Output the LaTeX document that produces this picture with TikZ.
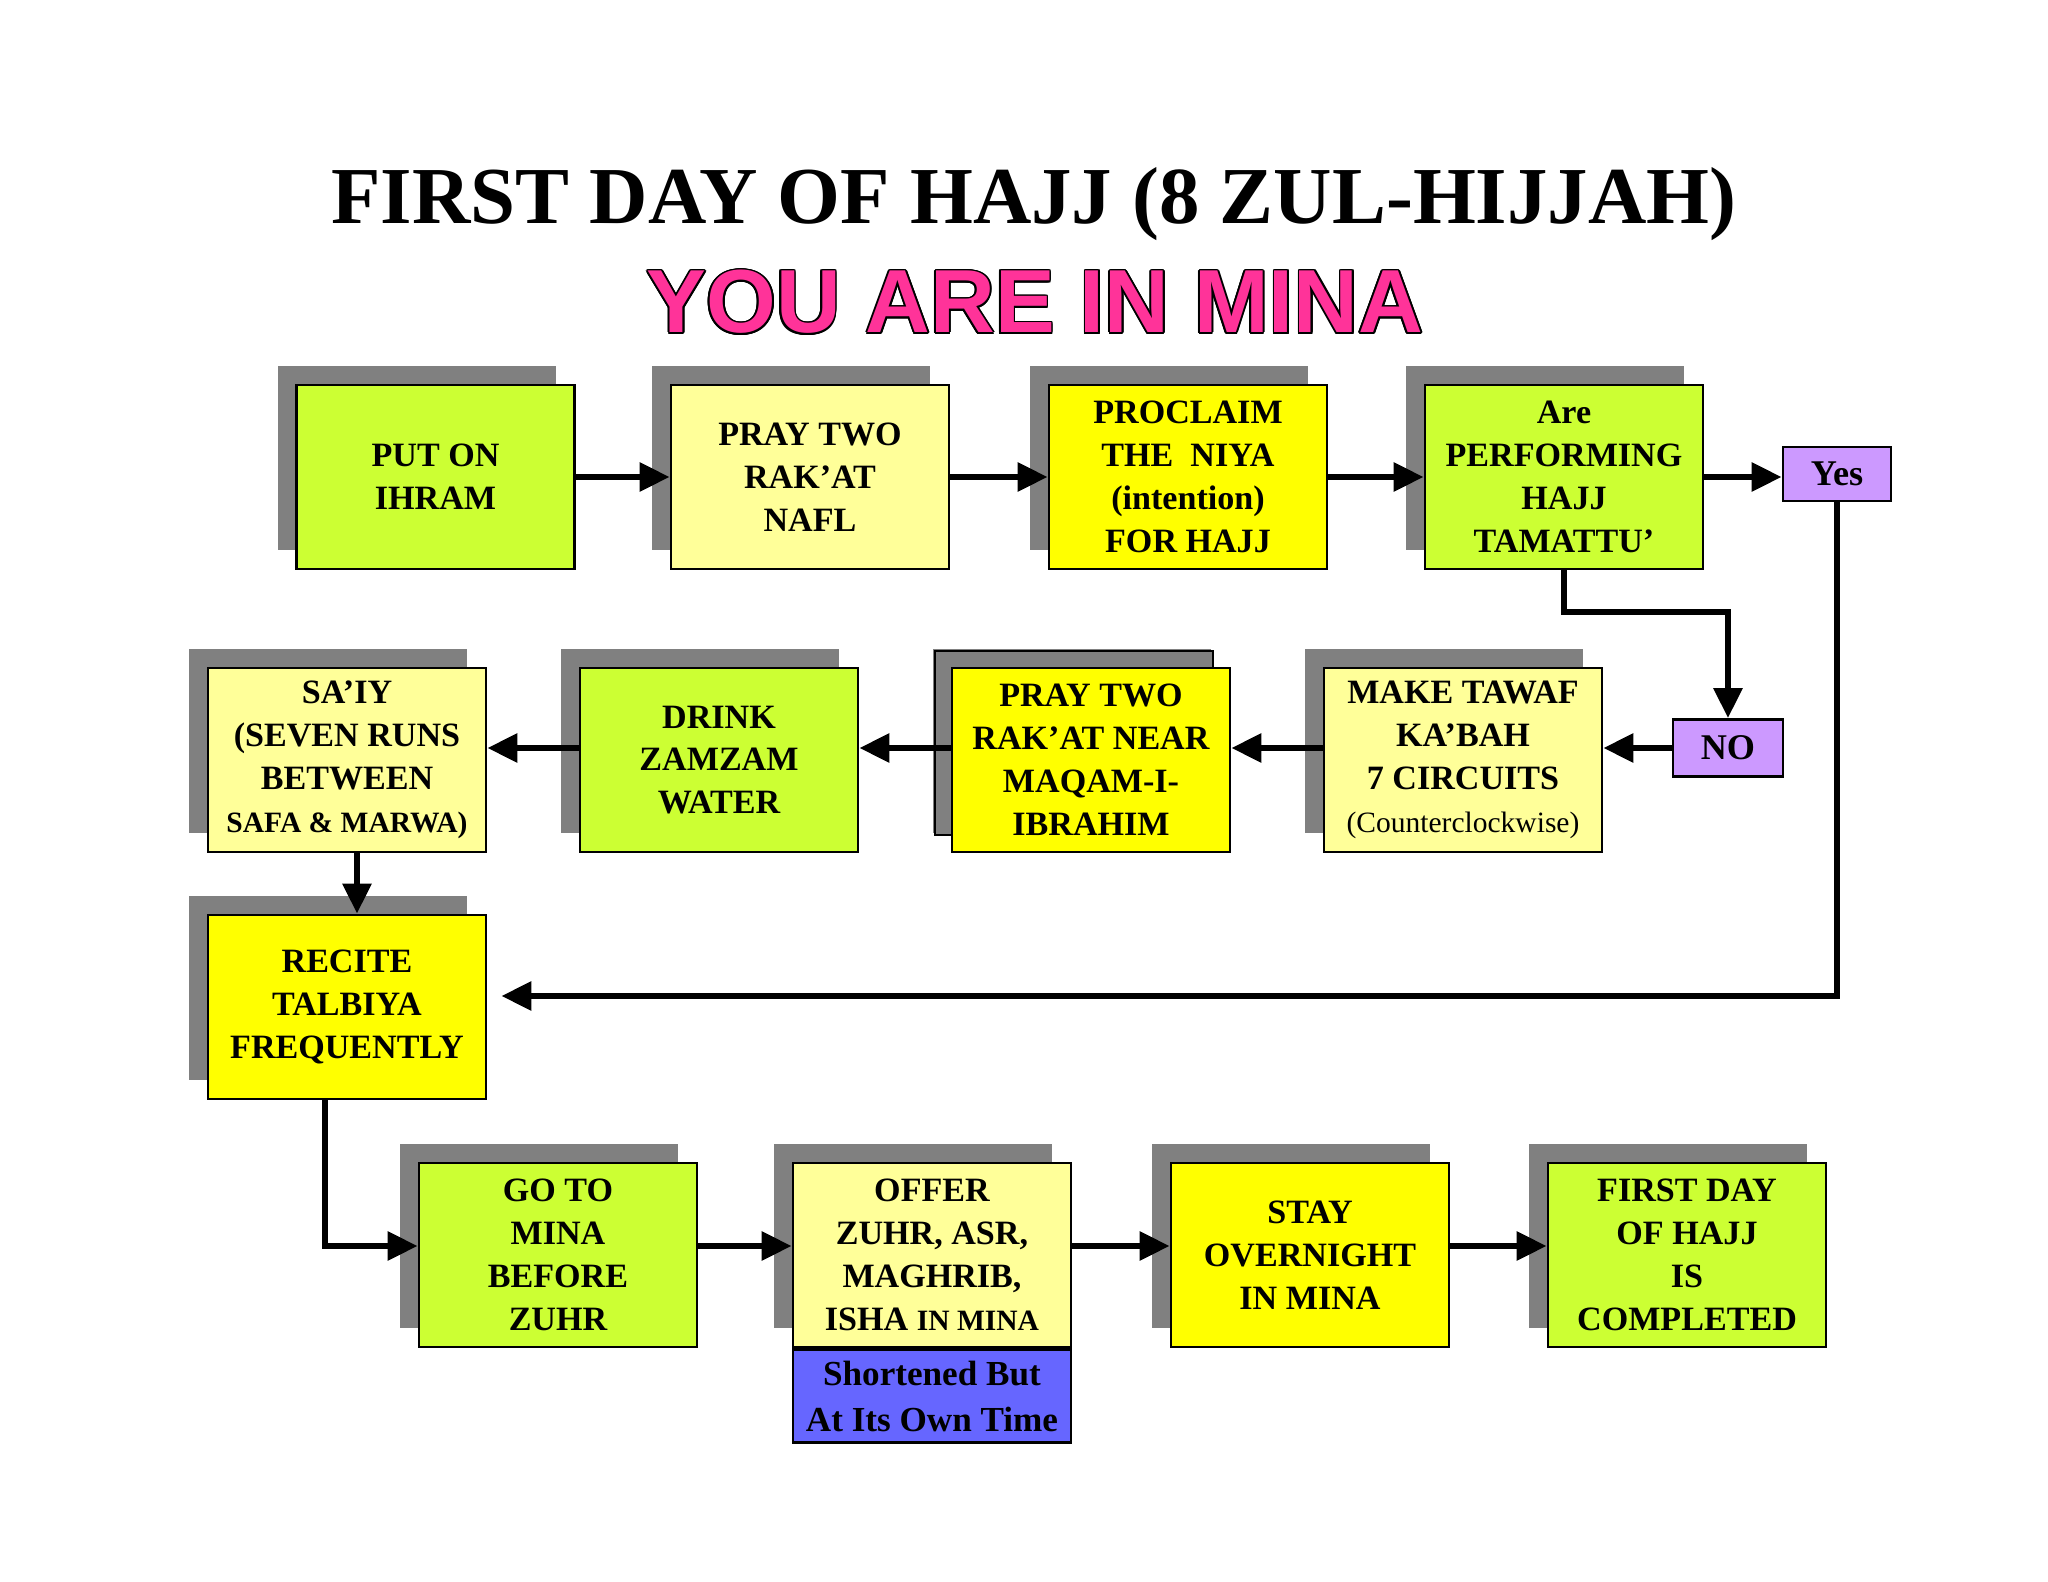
\documentclass[tikz,border=0pt]{standalone}
\usepackage{fontspec}
\setmainfont{Liberation Serif}
\newfontfamily\subfont{Liberation Sans}
\usepackage{contour}
\contourlength{0.5pt}
\usetikzlibrary{arrows.meta,shadows}
\definecolor{limegreen}{HTML}{CCFF33}
\definecolor{paleyellow}{HTML}{FFFF99}
\definecolor{brightyellow}{HTML}{FFFF00}
\definecolor{lavender}{HTML}{CC99FF}
\definecolor{bluepurple}{HTML}{6666FF}
\definecolor{shadowgray}{HTML}{808080}
\definecolor{titlepink}{HTML}{FF3399}
\newcommand{\boxfont}{\fontsize{9.7}{12.2}\selectfont\bfseries}
\tikzset{
	stepbox/.style={draw=black, line width=0.8pt, minimum width=2.78cm, minimum height=1.84cm, inner sep=0pt, align=center, font=\boxfont,
		general shadow={fill=shadowgray, shadow xshift=-0.19cm, shadow yshift=0.19cm}},
	answer/.style={draw=black, line width=0.8pt, fill=lavender, inner sep=0pt, align=center, font=\fontsize{10.3}{12}\selectfont\bfseries},
	arr/.style={line width=1.7pt, -{Triangle[length=0.3cm, width=0.28cm]}}
}
\begin{document}
\begin{tikzpicture}
	\useasboundingbox (0,0) rectangle (20.48,-15.82);
	\node[anchor=base, font=\fontsize{23}{27}\selectfont\bfseries] (title) at (10.34,-2.24) {FIRST DAY OF HAJJ (8 ZUL-HIJJAH)};
	\node[anchor=base, font=\subfont\fontsize{25.5}{30}\selectfont\bfseries, text=titlepink] (sub) at (10.35,-3.33) {\contour{black}{YOU ARE IN MINA}};

	\node[stepbox, fill=limegreen] (ihram) at (4.355,-4.77) {PUT ON\\IHRAM};
	\node[stepbox, fill=paleyellow] (nafl) at (8.10,-4.77) {PRAY TWO\\RAK’AT\\NAFL};
	\node[stepbox, fill=brightyellow] (niya) at (11.88,-4.77) {PROCLAIM\\THE\ \ NIYA\\(intention)\\FOR HAJJ};
	\node[stepbox, fill=limegreen] (tamattu) at (15.64,-4.77) {Are\\PERFORMING\\HAJJ\\TAMATTU’};
	\node[answer, minimum width=1.08cm, minimum height=0.54cm] (yes) at (18.37,-4.74) {Yes};

	\node[stepbox, fill=paleyellow] (saiy) at (3.47,-7.60) {SA’IY\\(SEVEN RUNS\\BETWEEN\\{\fontsize{8.4}{10}\selectfont SAFA \& MARWA)}};
	\node[stepbox, fill=limegreen] (zamzam) at (7.19,-7.60) {DRINK\\ZAMZAM\\WATER};
	\node[stepbox, fill=brightyellow, general shadow={fill=shadowgray, draw=black, shadow xshift=-0.17cm, shadow yshift=0.17cm}] (maqam) at (10.91,-7.60) {PRAY TWO\\RAK’AT NEAR\\MAQAM-I-\\IBRAHIM};
	\node[stepbox, fill=paleyellow] (tawaf) at (14.63,-7.60) {MAKE TAWAF\\KA’BAH\\7 CIRCUITS\\{\mdseries\fontsize{8.4}{10}\selectfont (Counterclockwise)}};
	\node[answer, minimum width=1.10cm, minimum height=0.57cm] (no) at (17.28,-7.48) {NO};

	\node[stepbox, fill=brightyellow] (talbiya) at (3.47,-10.07) {RECITE\\TALBIYA\\FREQUENTLY};

	\node[stepbox, fill=limegreen] (mina) at (5.58,-12.55) {GO TO\\MINA\\BEFORE\\ZUHR};
	\node[stepbox, fill=paleyellow] (offer) at (9.32,-12.55) {OFFER\\ZUHR, ASR,\\MAGHRIB,\\ISHA {\fontsize{8.4}{10}\selectfont IN MINA}};
	\node[stepbox, fill=brightyellow] (stay) at (13.10,-12.55) {STAY\\OVERNIGHT\\IN MINA};
	\node[stepbox, fill=limegreen] (done) at (16.87,-12.55) {FIRST DAY\\OF HAJJ\\IS\\COMPLETED};
	\node[draw=black, line width=0.8pt, fill=bluepurple, anchor=north, minimum width=2.78cm, minimum height=0.93cm, inner sep=0pt, align=center, font=\fontsize{10}{13}\selectfont\bfseries] (short) at (offer.south) {Shortened But\\At Its Own Time};

	\draw[arr] (ihram) -- (nafl);
	\draw[arr] (nafl) -- (niya);
	\draw[arr] (niya) -- (tamattu);
	\draw[arr] (tamattu.east) -- (tamattu.east -| yes.west);
	\draw[arr] (tamattu.south) -- ++(0,-0.42) -| (no.north);
	\draw[arr] (no.west) -- (no.west -| tawaf.east);
	\draw[arr] ([yshift=0.12cm]tawaf.west) -- ([yshift=0.12cm]maqam.east);
	\draw[arr] ([yshift=0.12cm]maqam.west) -- ([yshift=0.12cm]zamzam.east);
	\draw[arr] ([yshift=0.12cm]zamzam.west) -- ([yshift=0.12cm]saiy.east);
	\draw[arr] ([xshift=0.1cm]saiy.south) -- ([xshift=0.1cm]talbiya.north);
	\draw[arr] (yes.south) |- ([xshift=0.14cm, yshift=0.11cm]talbiya.east);
	\draw[arr] ([xshift=-0.22cm]talbiya.south) |- ([yshift=0.09cm]mina.west);
	\draw[arr] ([yshift=0.09cm]mina.east) -- ([yshift=0.09cm]offer.west);
	\draw[arr] ([yshift=0.09cm]offer.east) -- ([yshift=0.09cm]stay.west);
	\draw[arr] ([yshift=0.09cm]stay.east) -- ([yshift=0.09cm]done.west);
\end{tikzpicture}
\end{document}
